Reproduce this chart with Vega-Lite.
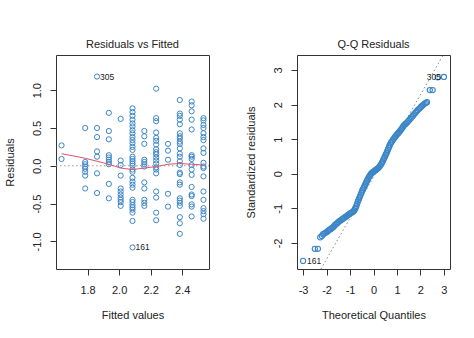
{
  "$schema": "https://vega.github.io/schema/vega-lite/v6.json",
  "background": "white",
  "padding": {"left": 3, "top": 38, "right": 0, "bottom": 0},
  "spacing": 32,
  "config": {
    "view": {"stroke": "#333", "strokeWidth": 1},
    "font": "Liberation Sans",
    "title": {"font": "Liberation Sans", "fontSize": 11, "fontWeight": "normal", "color": "#222", "offset": 5, "frame": "group", "anchor": "middle"},
    "axis": {"domain": false, "grid": false, "tickColor": "#333", "tickSize": 6, "labelOverlap": false, "labelFlush": false, "labelFont": "Liberation Sans", "labelFontSize": 11, "labelColor": "#222", "titleFont": "Liberation Sans", "titleFontSize": 11, "titleFontWeight": "normal", "titleColor": "#222"},
    "axisX": {"labelPadding": 9, "titlePadding": 14},
    "axisY": {"labelAngle": -90, "labelPadding": 8, "titlePadding": 16}
  },
  "datasets": {
    "rvf": [
      {"fitted": 1.635, "resid": 0.27}, {"fitted": 1.635, "resid": 0.09},
      {"fitted": 1.785, "resid": 0.50}, {"fitted": 1.785, "resid": 0.05}, {"fitted": 1.785, "resid": 0.02}, {"fitted": 1.785, "resid": -0.01}, {"fitted": 1.785, "resid": -0.04}, {"fitted": 1.785, "resid": -0.08}, {"fitted": 1.785, "resid": -0.13}, {"fitted": 1.785, "resid": -0.30},
      {"fitted": 1.86, "resid": 1.18}, {"fitted": 1.86, "resid": 0.50}, {"fitted": 1.86, "resid": 0.38}, {"fitted": 1.86, "resid": 0.19}, {"fitted": 1.86, "resid": 0.12}, {"fitted": 1.86, "resid": -0.10}, {"fitted": 1.86, "resid": -0.36},
      {"fitted": 1.935, "resid": 0.70}, {"fitted": 1.935, "resid": 0.46}, {"fitted": 1.935, "resid": 0.35}, {"fitted": 1.935, "resid": 0.14}, {"fitted": 1.935, "resid": 0.11}, {"fitted": 1.935, "resid": 0.08}, {"fitted": 1.935, "resid": 0.05}, {"fitted": 1.935, "resid": 0.02}, {"fitted": 1.935, "resid": -0.24}, {"fitted": 1.935, "resid": -0.43},
      {"fitted": 2.01, "resid": 0.62}, {"fitted": 2.01, "resid": 0.07}, {"fitted": 2.01, "resid": 0.01}, {"fitted": 2.01, "resid": -0.13}, {"fitted": 2.01, "resid": -0.30}, {"fitted": 2.01, "resid": -0.34}, {"fitted": 2.01, "resid": -0.38}, {"fitted": 2.01, "resid": -0.42}, {"fitted": 2.01, "resid": -0.45}, {"fitted": 2.01, "resid": -0.48}, {"fitted": 2.01, "resid": -0.53},
      {"fitted": 2.085, "resid": 0.76}, {"fitted": 2.085, "resid": 0.71}, {"fitted": 2.085, "resid": 0.66}, {"fitted": 2.085, "resid": 0.61}, {"fitted": 2.085, "resid": 0.56}, {"fitted": 2.085, "resid": 0.52}, {"fitted": 2.085, "resid": 0.47}, {"fitted": 2.085, "resid": 0.43}, {"fitted": 2.085, "resid": 0.38}, {"fitted": 2.085, "resid": 0.34}, {"fitted": 2.085, "resid": 0.30}, {"fitted": 2.085, "resid": 0.25}, {"fitted": 2.085, "resid": 0.21}, {"fitted": 2.085, "resid": 0.12}, {"fitted": 2.085, "resid": 0.09}, {"fitted": 2.085, "resid": 0.06}, {"fitted": 2.085, "resid": 0.03}, {"fitted": 2.085, "resid": 0.0}, {"fitted": 2.085, "resid": -0.05}, {"fitted": 2.085, "resid": -0.08}, {"fitted": 2.085, "resid": -0.16}, {"fitted": 2.085, "resid": -0.21}, {"fitted": 2.085, "resid": -0.25}, {"fitted": 2.085, "resid": -0.29}, {"fitted": 2.085, "resid": -0.45}, {"fitted": 2.085, "resid": -0.48}, {"fitted": 2.085, "resid": -0.52}, {"fitted": 2.085, "resid": -0.55}, {"fitted": 2.085, "resid": -0.58}, {"fitted": 2.085, "resid": -0.62}, {"fitted": 2.085, "resid": -0.73}, {"fitted": 2.085, "resid": -1.08},
      {"fitted": 2.16, "resid": 0.46}, {"fitted": 2.16, "resid": 0.39}, {"fitted": 2.16, "resid": 0.29}, {"fitted": 2.16, "resid": 0.08}, {"fitted": 2.16, "resid": 0.05}, {"fitted": 2.16, "resid": 0.02}, {"fitted": 2.16, "resid": -0.01}, {"fitted": 2.16, "resid": -0.22}, {"fitted": 2.16, "resid": -0.30}, {"fitted": 2.16, "resid": -0.45}, {"fitted": 2.16, "resid": -0.49}, {"fitted": 2.16, "resid": -0.53},
      {"fitted": 2.235, "resid": 1.02}, {"fitted": 2.235, "resid": 0.63}, {"fitted": 2.235, "resid": 0.59}, {"fitted": 2.235, "resid": 0.44}, {"fitted": 2.235, "resid": 0.37}, {"fitted": 2.235, "resid": 0.33}, {"fitted": 2.235, "resid": 0.28}, {"fitted": 2.235, "resid": 0.22}, {"fitted": 2.235, "resid": 0.18}, {"fitted": 2.235, "resid": 0.15}, {"fitted": 2.235, "resid": 0.11}, {"fitted": 2.235, "resid": 0.07}, {"fitted": 2.235, "resid": 0.03}, {"fitted": 2.235, "resid": -0.02}, {"fitted": 2.235, "resid": -0.05}, {"fitted": 2.235, "resid": -0.10}, {"fitted": 2.235, "resid": -0.34}, {"fitted": 2.235, "resid": -0.42}, {"fitted": 2.235, "resid": -0.62}, {"fitted": 2.235, "resid": -0.72},
      {"fitted": 2.31, "resid": 0.29}, {"fitted": 2.31, "resid": 0.20}, {"fitted": 2.31, "resid": 0.08}, {"fitted": 2.31, "resid": -0.37}, {"fitted": 2.31, "resid": -0.54},
      {"fitted": 2.385, "resid": 0.87}, {"fitted": 2.385, "resid": 0.69}, {"fitted": 2.385, "resid": 0.66}, {"fitted": 2.385, "resid": 0.61}, {"fitted": 2.385, "resid": 0.55}, {"fitted": 2.385, "resid": 0.43}, {"fitted": 2.385, "resid": 0.39}, {"fitted": 2.385, "resid": 0.36}, {"fitted": 2.385, "resid": 0.32}, {"fitted": 2.385, "resid": 0.29}, {"fitted": 2.385, "resid": 0.23}, {"fitted": 2.385, "resid": 0.16}, {"fitted": 2.385, "resid": 0.12}, {"fitted": 2.385, "resid": 0.06}, {"fitted": 2.385, "resid": 0.01}, {"fitted": 2.385, "resid": -0.09}, {"fitted": 2.385, "resid": -0.11}, {"fitted": 2.385, "resid": -0.22}, {"fitted": 2.385, "resid": -0.25}, {"fitted": 2.385, "resid": -0.43}, {"fitted": 2.385, "resid": -0.46}, {"fitted": 2.385, "resid": -0.49}, {"fitted": 2.385, "resid": -0.53}, {"fitted": 2.385, "resid": -0.68}, {"fitted": 2.385, "resid": -0.76}, {"fitted": 2.385, "resid": -0.90},
      {"fitted": 2.46, "resid": 0.85}, {"fitted": 2.46, "resid": 0.80}, {"fitted": 2.46, "resid": 0.72}, {"fitted": 2.46, "resid": 0.61}, {"fitted": 2.46, "resid": 0.48}, {"fitted": 2.46, "resid": 0.14}, {"fitted": 2.46, "resid": 0.12}, {"fitted": 2.46, "resid": 0.09}, {"fitted": 2.46, "resid": 0.01}, {"fitted": 2.46, "resid": -0.05}, {"fitted": 2.46, "resid": -0.12}, {"fitted": 2.46, "resid": -0.28}, {"fitted": 2.46, "resid": -0.38}, {"fitted": 2.46, "resid": -0.40}, {"fitted": 2.46, "resid": -0.51}, {"fitted": 2.46, "resid": -0.54}, {"fitted": 2.46, "resid": -0.67},
      {"fitted": 2.535, "resid": 0.63}, {"fitted": 2.535, "resid": 0.60}, {"fitted": 2.535, "resid": 0.54}, {"fitted": 2.535, "resid": 0.50}, {"fitted": 2.535, "resid": 0.43}, {"fitted": 2.535, "resid": 0.38}, {"fitted": 2.535, "resid": 0.34}, {"fitted": 2.535, "resid": 0.23}, {"fitted": 2.535, "resid": 0.17}, {"fitted": 2.535, "resid": 0.04}, {"fitted": 2.535, "resid": -0.01}, {"fitted": 2.535, "resid": -0.03}, {"fitted": 2.535, "resid": -0.14}, {"fitted": 2.535, "resid": -0.34}, {"fitted": 2.535, "resid": -0.45}, {"fitted": 2.535, "resid": -0.56}, {"fitted": 2.535, "resid": -0.60}, {"fitted": 2.535, "resid": -0.64}, {"fitted": 2.535, "resid": -0.70}
    ],
    "zero": [{"fitted": 1.6, "resid": 0}, {"fitted": 2.57, "resid": 0}],
    "smooth": [
      {"fitted": 1.635, "resid": 0.16}, {"fitted": 1.785, "resid": 0.10}, {"fitted": 1.86, "resid": 0.06}, {"fitted": 1.935, "resid": 0.02},
      {"fitted": 2.01, "resid": -0.03}, {"fitted": 2.085, "resid": -0.05}, {"fitted": 2.16, "resid": -0.03}, {"fitted": 2.235, "resid": -0.01},
      {"fitted": 2.31, "resid": 0.02}, {"fitted": 2.385, "resid": 0.03}, {"fitted": 2.46, "resid": 0.02}, {"fitted": 2.535, "resid": 0.01}
    ],
    "rvfLabels": [
      {"fitted": 1.86, "resid": 1.18, "label": "305"},
      {"fitted": 2.085, "resid": -1.08, "label": "161"}
    ],
    "qq": [
      {"theoretical": -3.0, "std": -2.52}, {"theoretical": -2.5, "std": -2.17}, {"theoretical": -2.37, "std": -2.17}, {"theoretical": -2.27, "std": -1.84},
      {"theoretical": -2.2, "std": -1.8}, {"theoretical": -2.15, "std": -1.75}, {"theoretical": -2.1, "std": -1.73}, {"theoretical": -2.05, "std": -1.71},
      {"theoretical": -2.0, "std": -1.69}, {"theoretical": -1.95, "std": -1.66}, {"theoretical": -1.9, "std": -1.63}, {"theoretical": -1.85, "std": -1.61},
      {"theoretical": -1.8, "std": -1.59}, {"theoretical": -1.75, "std": -1.56}, {"theoretical": -1.7, "std": -1.53}, {"theoretical": -1.65, "std": -1.49},
      {"theoretical": -1.6, "std": -1.46}, {"theoretical": -1.55, "std": -1.43}, {"theoretical": -1.5, "std": -1.4}, {"theoretical": -1.45, "std": -1.37},
      {"theoretical": -1.4, "std": -1.35}, {"theoretical": -1.35, "std": -1.32}, {"theoretical": -1.3, "std": -1.3}, {"theoretical": -1.25, "std": -1.28},
      {"theoretical": -1.2, "std": -1.25}, {"theoretical": -1.15, "std": -1.23}, {"theoretical": -1.1, "std": -1.2}, {"theoretical": -1.05, "std": -1.18},
      {"theoretical": -1.0, "std": -1.15}, {"theoretical": -0.95, "std": -1.13}, {"theoretical": -0.9, "std": -1.11}, {"theoretical": -0.86, "std": -1.09},
      {"theoretical": -0.82, "std": -1.06}, {"theoretical": -0.79, "std": -1.02}, {"theoretical": -0.76, "std": -0.98}, {"theoretical": -0.73, "std": -0.93},
      {"theoretical": -0.7, "std": -0.87}, {"theoretical": -0.67, "std": -0.81}, {"theoretical": -0.64, "std": -0.76}, {"theoretical": -0.61, "std": -0.71},
      {"theoretical": -0.58, "std": -0.66}, {"theoretical": -0.55, "std": -0.61}, {"theoretical": -0.52, "std": -0.56}, {"theoretical": -0.49, "std": -0.51},
      {"theoretical": -0.46, "std": -0.46}, {"theoretical": -0.43, "std": -0.42}, {"theoretical": -0.4, "std": -0.38}, {"theoretical": -0.37, "std": -0.34},
      {"theoretical": -0.34, "std": -0.29}, {"theoretical": -0.31, "std": -0.25}, {"theoretical": -0.28, "std": -0.21}, {"theoretical": -0.25, "std": -0.17},
      {"theoretical": -0.22, "std": -0.13}, {"theoretical": -0.19, "std": -0.09}, {"theoretical": -0.16, "std": -0.06}, {"theoretical": -0.13, "std": -0.03},
      {"theoretical": -0.1, "std": 0.0}, {"theoretical": -0.06, "std": 0.03}, {"theoretical": -0.02, "std": 0.05}, {"theoretical": 0.02, "std": 0.07},
      {"theoretical": 0.06, "std": 0.09}, {"theoretical": 0.1, "std": 0.11}, {"theoretical": 0.14, "std": 0.13}, {"theoretical": 0.18, "std": 0.15},
      {"theoretical": 0.22, "std": 0.18}, {"theoretical": 0.26, "std": 0.21}, {"theoretical": 0.3, "std": 0.25}, {"theoretical": 0.34, "std": 0.29},
      {"theoretical": 0.37, "std": 0.33}, {"theoretical": 0.4, "std": 0.37}, {"theoretical": 0.43, "std": 0.42}, {"theoretical": 0.46, "std": 0.46},
      {"theoretical": 0.49, "std": 0.5}, {"theoretical": 0.52, "std": 0.55}, {"theoretical": 0.55, "std": 0.59}, {"theoretical": 0.58, "std": 0.64},
      {"theoretical": 0.61, "std": 0.69}, {"theoretical": 0.64, "std": 0.74}, {"theoretical": 0.67, "std": 0.79}, {"theoretical": 0.7, "std": 0.84},
      {"theoretical": 0.74, "std": 0.89}, {"theoretical": 0.78, "std": 0.93}, {"theoretical": 0.82, "std": 0.97}, {"theoretical": 0.86, "std": 1.01},
      {"theoretical": 0.9, "std": 1.05}, {"theoretical": 0.94, "std": 1.08}, {"theoretical": 0.98, "std": 1.12}, {"theoretical": 1.02, "std": 1.15},
      {"theoretical": 1.06, "std": 1.18}, {"theoretical": 1.1, "std": 1.21}, {"theoretical": 1.14, "std": 1.25}, {"theoretical": 1.18, "std": 1.28},
      {"theoretical": 1.22, "std": 1.32}, {"theoretical": 1.26, "std": 1.36}, {"theoretical": 1.3, "std": 1.4}, {"theoretical": 1.34, "std": 1.43},
      {"theoretical": 1.38, "std": 1.45}, {"theoretical": 1.43, "std": 1.48}, {"theoretical": 1.48, "std": 1.52}, {"theoretical": 1.53, "std": 1.56},
      {"theoretical": 1.58, "std": 1.6}, {"theoretical": 1.63, "std": 1.64}, {"theoretical": 1.68, "std": 1.68}, {"theoretical": 1.73, "std": 1.72},
      {"theoretical": 1.78, "std": 1.76}, {"theoretical": 1.83, "std": 1.8}, {"theoretical": 1.88, "std": 1.84}, {"theoretical": 1.93, "std": 1.87},
      {"theoretical": 1.98, "std": 1.9}, {"theoretical": 2.03, "std": 1.94}, {"theoretical": 2.08, "std": 1.97}, {"theoretical": 2.13, "std": 2.0},
      {"theoretical": 2.18, "std": 2.03}, {"theoretical": 2.23, "std": 2.05}, {"theoretical": 2.28, "std": 2.07}, {"theoretical": 2.4, "std": 2.42},
      {"theoretical": 2.52, "std": 2.42}, {"theoretical": 2.74, "std": 2.79}, {"theoretical": 3.0, "std": 2.8}
    ],
    "qqline": [
      {"theoretical": -2.24, "std": -2.755}, {"theoretical": 2.97, "std": 3.435}
    ],
    "qqLow": [{"theoretical": -3.0, "std": -2.52, "label": "161"}],
    "qqHigh": [{"theoretical": 3.0, "std": 2.8, "label": "305"}]
  },
  "hconcat": [
    {
      "width": 153,
      "height": 214,
      "title": {"text": "Residuals vs Fitted"},
      "encoding": {
        "x": {"field": "fitted", "type": "quantitative", "scale": {"domain": [1.6, 2.57], "nice": false, "zero": false}, "axis": {"title": "Fitted values", "values": [1.8, 2.0, 2.2, 2.4], "labelOverlap": false, "labelFlush": false, "labelExpr": "format(datum.value, '.1f')"}},
        "y": {"field": "resid", "type": "quantitative", "scale": {"domain": [-1.365, 1.465], "nice": false, "zero": false}, "axis": {"title": "Residuals", "values": [-1, -0.5, 0, 0.5, 1], "labelOverlap": false, "labelFlush": false, "labelExpr": "replace(format(datum.value, '.1f'), '\u2212', '-')"}}
      },
      "layer": [
        {
          "data": {"name": "rvf"},
          "mark": {"type": "point", "shape": "circle", "size": 27, "strokeWidth": 1, "color": "#3b86c7", "opacity": 1}
        },
        {
          "data": {"name": "zero"},
          "mark": {"type": "line", "color": "#9a9a9a", "strokeDash": [1.5, 2.5], "strokeWidth": 1}
        },
        {
          "data": {"name": "smooth"},
          "mark": {"type": "line", "color": "#DF536B", "strokeWidth": 1}
        },
        {
          "data": {"name": "rvfLabels"},
          "mark": {"type": "text", "align": "left", "baseline": "middle", "dx": 3, "fontSize": 8.5, "font": "Liberation Sans", "color": "#222"},
          "encoding": {"text": {"field": "label"}}
        }
      ]
    },
    {
      "width": 153,
      "height": 214,
      "title": {"text": "Q-Q Residuals"},
      "encoding": {
        "x": {"field": "theoretical", "type": "quantitative", "scale": {"domain": [-3.26, 3.26], "nice": false, "zero": false}, "axis": {"title": "Theoretical Quantiles", "values": [-3, -2, -1, 0, 1, 2, 3], "labelOverlap": false, "labelFlush": false, "labelExpr": "replace(format(datum.value, 'd'), '\u2212', '-')"}},
        "y": {"field": "std", "type": "quantitative", "scale": {"domain": [-2.755, 3.435], "nice": false, "zero": false}, "axis": {"title": "Standardized residuals", "values": [-2, -1, 0, 1, 2, 3], "labelOverlap": false, "labelFlush": false, "labelExpr": "replace(format(datum.value, 'd'), '\u2212', '-')"}}
      },
      "layer": [
        {
          "data": {"name": "qqline"},
          "mark": {"type": "line", "color": "#8a8a8a", "strokeDash": [1.5, 2.5], "strokeWidth": 1, "clip": true}
        },
        {
          "data": {"name": "qq"},
          "mark": {"type": "point", "shape": "circle", "size": 27, "strokeWidth": 1.1, "color": "#3b86c7", "opacity": 1}
        },
        {
          "data": {"name": "qqLow"},
          "mark": {"type": "text", "align": "left", "baseline": "middle", "dx": 4, "fontSize": 8.5, "font": "Liberation Sans", "color": "#222"},
          "encoding": {"text": {"field": "label"}}
        },
        {
          "data": {"name": "qqHigh"},
          "mark": {"type": "text", "align": "right", "baseline": "middle", "dx": -3, "fontSize": 8.5, "font": "Liberation Sans", "color": "#222"},
          "encoding": {"text": {"field": "label"}}
        }
      ]
    }
  ]
}
